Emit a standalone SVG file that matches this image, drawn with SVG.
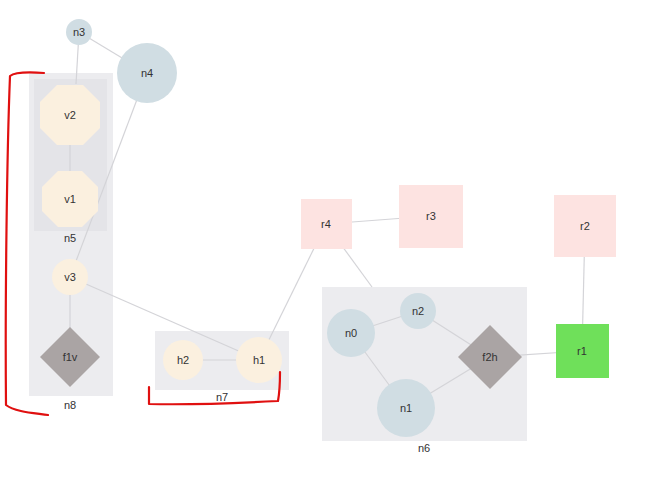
<svg xmlns="http://www.w3.org/2000/svg" width="671" height="481" viewBox="0 0 671 481">
<style>
.g{fill:#ececef}
.c{fill:#d0dde3}
.v{fill:#fbf0df}
.d{fill:#aaa4a4}
.r{fill:#fde3e1}
.e line{stroke:#d4d4d8;stroke-width:1.2}
text{font-family:"Liberation Sans",Arial,sans-serif;font-size:11px;fill:#333;text-anchor:middle;dominant-baseline:central}
.red{fill:none;stroke:#e01010;stroke-width:2.2;stroke-linecap:round;stroke-linejoin:round}
</style>
<rect width="671" height="481" fill="#fff"/>
<g id="n8"><rect class="g" x="29" y="73" width="84" height="323"/><text x="70" y="405">n8</text></g>
<g id="n5"><rect x="34" y="79" width="73" height="152" fill="#e4e4e8"/><text x="70" y="238">n5</text></g>
<g id="n7"><rect class="g" x="155" y="331" width="134" height="59"/><text x="222" y="397">n7</text></g>
<g id="n6"><rect class="g" x="322" y="287" width="205" height="154"/><text x="424" y="448">n6</text></g>
<g class="e" id="edges">
<line x1="79" y1="32" x2="147" y2="73"/>
<line x1="79" y1="32" x2="76" y2="84"/>
<line x1="70" y1="115" x2="70" y2="199"/>
<line x1="147" y1="73" x2="70" y2="277"/>
<line x1="70" y1="277" x2="70" y2="357"/>
<line x1="70" y1="277" x2="259" y2="360"/>
<line x1="183" y1="360" x2="259" y2="360"/>
<line x1="259" y1="360" x2="326" y2="224"/>
<line x1="326" y1="224" x2="431" y2="216"/>
<line x1="326" y1="224" x2="372" y2="287"/>
<line x1="351" y1="333" x2="418" y2="311"/>
<line x1="418" y1="311" x2="490" y2="357"/>
<line x1="351" y1="333" x2="406" y2="408"/>
<line x1="406" y1="408" x2="490" y2="357"/>
<line x1="490" y1="357" x2="582" y2="351"/>
<line x1="582" y1="351" x2="585" y2="226"/>
</g>
<g id="n3"><circle class="c" cx="79" cy="32" r="13"/><text x="79" y="32">n3</text></g>
<g id="n4"><circle class="c" cx="147" cy="73" r="30"/><text x="147" y="73">n4</text></g>
<g id="v2"><polygon class="v" points="83,85 100,102 100,128 83,145 57,145 40,128 40,102 57,85"/><text x="70" y="115">v2</text></g>
<g id="v1"><polygon class="v" points="82,171 98,187 98,211 82,227 58,227 42,211 42,187 58,171"/><text x="70" y="199">v1</text></g>
<g id="v3"><circle class="v" cx="70" cy="277" r="18"/><text x="70" y="277">v3</text></g>
<g id="f1v"><polygon class="d" points="70,327 100,357 70,387 40,357"/><text x="70" y="357">f1v</text></g>
<g id="h2"><circle class="v" cx="183" cy="360" r="20"/><text x="183" y="360">h2</text></g>
<g id="h1"><circle class="v" cx="259" cy="360" r="23"/><text x="259" y="360">h1</text></g>
<g id="r4"><rect class="r" x="301" y="199" width="51" height="50"/><text x="326" y="224">r4</text></g>
<g id="r3"><rect class="r" x="399" y="185" width="64" height="63"/><text x="431" y="216">r3</text></g>
<g id="r2"><rect class="r" x="554" y="195" width="62" height="62"/><text x="585" y="226">r2</text></g>
<g id="r1"><rect x="556" y="324" width="53" height="54" fill="#6fe05a"/><text x="582" y="351">r1</text></g>
<g id="n0"><circle class="c" cx="351" cy="333" r="24"/><text x="351" y="333">n0</text></g>
<g id="n2"><circle class="c" cx="418" cy="311" r="18"/><text x="418" y="311">n2</text></g>
<g id="n1"><circle class="c" cx="406" cy="408" r="29"/><text x="406" y="408">n1</text></g>
<g id="f2h"><polygon class="d" points="490,325 522,357 490,389 458,357"/><text x="490" y="357">f2h</text></g>
<path class="red" d="M44,73 C30,72 15,72 10,76 C7,150 5,300 6,405 C15,412 35,413 48,415"/>
<path class="red" d="M149,387 L149,404 C190,405 240,403 278,401 C280,390 280,380 280,372"/>
</svg>
